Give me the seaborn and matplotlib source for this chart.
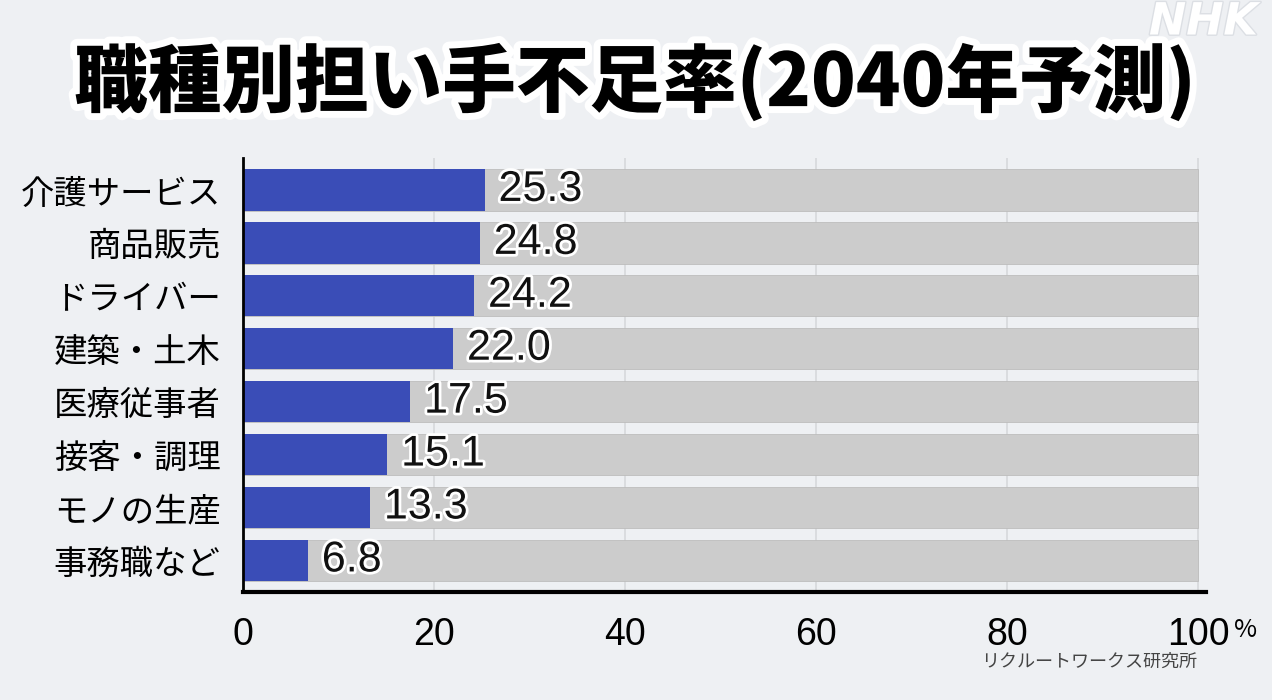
import matplotlib
matplotlib.use("Agg")
import matplotlib.pyplot as plt
import matplotlib.patheffects as pe
import seaborn as sns
import pandas as pd

categories = ["介護サービス", "商品販売", "ドライバー", "建築・土木", "医療従事者", "接客・調理", "モノの生産", "事務職など"]
values = [25.3, 24.8, 24.2, 22.0, 17.5, 15.1, 13.3, 6.8]
full_scale = [100] * len(categories)
x_ticks = [0, 20, 40, 60, 80, 100]
title = "職種別担い手不足率(2040年予測)"
source = "リクルートワークス研究所"

sns.set_theme(style="white")
plt.rcParams['font.family'] = ['Noto Sans CJK JP', 'DejaVu Sans']

bg = "#eef0f3"
fig = plt.figure(figsize=(12.72, 7.0), dpi=100, facecolor=bg)
ax = fig.add_axes([0.191, 0.154, 0.757, 0.620])
ax.set_facecolor(bg)

df = pd.DataFrame({"cat": categories, "val": values, "full": full_scale})

# grid lines
for t in x_ticks[1:]:
    ax.axvline(t, color="#d6d8dc", lw=1.2, zorder=0)

sns.barplot(data=df, x="full", y="cat", orient="h", color="#cccccc", width=0.78,
            saturation=1, ax=ax, zorder=1, edgecolor="#bdbdbd", linewidth=0.6)
sns.barplot(data=df, x="val", y="cat", orient="h", color="#3a4db7", width=0.78,
            saturation=1, ax=ax, zorder=2, linewidth=0)

outline = [pe.withStroke(linewidth=4, foreground="white")]
for i, v in enumerate(values):
    ax.annotate(f"{v:.1f}", xy=(v, i), xytext=(10, 0), textcoords="offset points",
                va="center", ha="left", fontsize=31, color="#111111",
                family=["Liberation Sans", "DejaVu Sans"], path_effects=outline, zorder=5)

ax.set_xlim(0, 100.8)
ax.set_ylim(len(categories) - 0.4, -0.6)
ax.set_xticks(x_ticks)
ax.set_xticklabels([str(t) for t in x_ticks], fontsize=27, color="black",
                   family=["Liberation Sans", "DejaVu Sans"])
ax.set_yticks(range(len(categories)))
ax.set_yticklabels(categories, fontsize=24, color="black")
ax.set_xlabel("")
ax.set_ylabel("")

for s in ["top", "right"]:
    ax.spines[s].set_visible(False)
ax.spines["left"].set_color("black")
ax.spines["left"].set_linewidth(2)
ax.spines["bottom"].set_color("black")
ax.spines["bottom"].set_linewidth(3)
ax.tick_params(axis="y", direction="out", length=8, width=1.5, color="black", pad=8)
ax.tick_params(axis="x", direction="out", length=10, width=2, color="black", pad=8)

fig.text(1234 / 1272, 1 - 630 / 700, "%", fontsize=18, ha="left", va="center", color="black")
fig.text(1197 / 1272, 1 - 662 / 700, source, fontsize=13, ha="right", va="center", color="#444444")

fig.text(635 / 1272, 1 - 82 / 700, title, fontsize=53, fontweight="black", ha="center", va="center",
         color="black", path_effects=[pe.withStroke(linewidth=10, foreground="white")])

fig.text(1258 / 1272, 1 - 22 / 700, "NHK", fontsize=32, fontweight="bold", style="italic",
         ha="right", va="center", color="white", family=["DejaVu Sans"],
         path_effects=[pe.withStroke(linewidth=2, foreground="#dcdfe4")])

fig.savefig("out.png", dpi=100, facecolor=bg)
